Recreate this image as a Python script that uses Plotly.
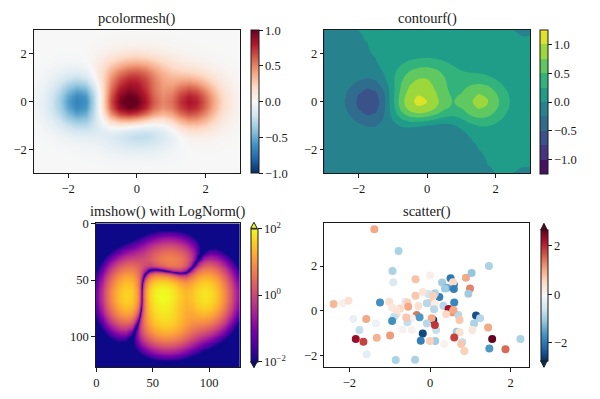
import plotly.graph_objects as go
from plotly.colors import sample_colorscale

# ---------------- data ----------------
grid_x = [-3.0, -2.75, -2.5, -2.25, -2.0, -1.75, -1.5, -1.25, -1.0, -0.75, -0.5, -0.25, 0.0,
          0.25, 0.5, 0.75, 1.0, 1.25, 1.5, 1.75, 2.0, 2.25, 2.5, 2.75, 3.0]
grid_y = [-3.0, -2.75, -2.5, -2.25, -2.0, -1.75, -1.5, -1.25, -1.0, -0.75, -0.5, -0.25, 0.0,
          0.25, 0.5, 0.75, 1.0, 1.25, 1.5, 1.75, 2.0, 2.25, 2.5, 2.75, 3.0]

# field values, one row per grid_y value (bottom row first)
Z = [
    [0, 0, 0, 0, -0.0002, -0.0003, -0.0004, -0.0007, -0.0012, -0.0018, -0.0025, -0.0030, -0.0032, -0.0030, -0.0025, -0.0018, -0.0011, -0.0006, -0.0003, -0.0001, 0, 0, 0, 0, 0],
    [0, 0, -0.0001, -0.0002, -0.0005, -0.0009, -0.0014, -0.0025, -0.0039, -0.0059, -0.0079, -0.0097, -0.0103, -0.0098, -0.0081, -0.0059, -0.0037, -0.0019, -0.0007, -0.0001, 0.0001, 0.0002, 0.0001, 0, 0],
    [-0.0001, -0.0002, -0.0004, -0.0009, -0.0016, -0.0027, -0.0044, -0.0069, -0.0107, -0.0160, -0.0217, -0.0263, -0.0283, -0.0267, -0.0223, -0.0163, -0.0100, -0.0049, -0.0016, 0.0001, 0.0005, 0.0005, 0.0003, 0.0002, 0.0001],
    [-0.0002, -0.0006, -0.0013, -0.0027, -0.0048, -0.0077, -0.0115, -0.0170, -0.0253, -0.0370, -0.0502, -0.0610, -0.0658, -0.0625, -0.0524, -0.0380, -0.0230, -0.0106, -0.0024, 0.0015, 0.0024, 0.0018, 0.0011, 0.0005, 0.0002],
    [-0.0006, -0.0016, -0.0037, -0.0074, -0.0128, -0.0193, -0.0267, -0.0362, -0.0505, -0.0716, -0.0967, -0.1183, -0.1282, -0.1225, -0.1030, -0.0745, -0.0438, -0.0175, -0.0003, 0.0073, 0.0080, 0.0058, 0.0031, 0.0014, 0.0005],
    [-0.001, -0.004, -0.009, -0.018, -0.030, -0.044, -0.055, -0.067, -0.084, -0.113, -0.151, -0.186, -0.204, -0.197, -0.167, -0.120, -0.066, -0.019, 0.012, 0.025, 0.023, 0.015, 0.008, 0.004, 0.001],
    [-0.003, -0.009, -0.020, -0.039, -0.064, -0.088, -0.102, -0.106, -0.112, -0.134, -0.177, -0.223, -0.250, -0.247, -0.213, -0.151, -0.073, 0.001, 0.050, 0.065, 0.055, 0.036, 0.019, 0.008, 0.003],
    [-0.006, -0.017, -0.039, -0.076, -0.123, -0.162, -0.172, -0.149, -0.112, -0.097, -0.120, -0.163, -0.200, -0.212, -0.191, -0.130, -0.035, 0.065, 0.130, 0.143, 0.115, 0.074, 0.039, 0.017, 0.006],
    [-0.011, -0.030, -0.068, -0.132, -0.209, -0.267, -0.265, -0.187, -0.068, 0.029, 0.063, 0.043, 0.000, -0.043, -0.063, -0.029, 0.068, 0.187, 0.265, 0.267, 0.209, 0.132, 0.069, 0.030, 0.011],
    [-0.017, -0.046, -0.105, -0.202, -0.318, -0.399, -0.376, -0.221, 0.016, 0.232, 0.354, 0.376, 0.329, 0.243, 0.160, 0.143, 0.226, 0.359, 0.446, 0.430, 0.330, 0.206, 0.107, 0.046, 0.017],
    [-0.023, -0.063, -0.144, -0.274, -0.430, -0.534, -0.490, -0.253, 0.107, 0.449, 0.663, 0.731, 0.681, 0.549, 0.398, 0.327, 0.394, 0.539, 0.634, 0.598, 0.455, 0.283, 0.146, 0.063, 0.023],
    [-0.028, -0.076, -0.173, -0.330, -0.517, -0.639, -0.580, -0.284, 0.167, 0.601, 0.880, 0.978, 0.925, 0.759, 0.560, 0.453, 0.513, 0.672, 0.775, 0.726, 0.550, 0.342, 0.176, 0.077, 0.028],
    [-0.030, -0.080, -0.184, -0.352, -0.550, -0.680, -0.616, -0.299, 0.184, 0.648, 0.949, 1.056, 1.000, 0.823, 0.608, 0.491, 0.552, 0.718, 0.827, 0.774, 0.586, 0.364, 0.188, 0.082, 0.030],
    [-0.028, -0.076, -0.173, -0.330, -0.516, -0.638, -0.577, -0.278, 0.178, 0.617, 0.903, 1.006, 0.954, 0.787, 0.583, 0.470, 0.524, 0.678, 0.778, 0.727, 0.551, 0.342, 0.177, 0.077, 0.028],
    [-0.023, -0.063, -0.143, -0.273, -0.426, -0.525, -0.469, -0.212, 0.179, 0.560, 0.815, 0.914, 0.876, 0.732, 0.550, 0.438, 0.466, 0.580, 0.654, 0.607, 0.458, 0.284, 0.147, 0.064, 0.023],
    [-0.017, -0.046, -0.104, -0.199, -0.309, -0.376, -0.326, -0.120, 0.193, 0.506, 0.728, 0.828, 0.810, 0.695, 0.534, 0.417, 0.403, 0.460, 0.496, 0.452, 0.338, 0.209, 0.108, 0.047, 0.017],
    [-0.011, -0.029, -0.067, -0.127, -0.195, -0.233, -0.188, -0.033, 0.203, 0.448, 0.636, 0.734, 0.736, 0.648, 0.510, 0.390, 0.338, 0.341, 0.343, 0.302, 0.222, 0.136, 0.070, 0.030, 0.011],
    [-0.006, -0.017, -0.038, -0.071, -0.108, -0.123, -0.086, 0.023, 0.189, 0.369, 0.518, 0.606, 0.619, 0.557, 0.446, 0.336, 0.266, 0.236, 0.217, 0.181, 0.130, 0.079, 0.040, 0.017, 0.006],
    [-0.003, -0.008, -0.019, -0.035, -0.051, -0.055, -0.027, 0.043, 0.150, 0.271, 0.377, 0.445, 0.461, 0.421, 0.341, 0.255, 0.189, 0.150, 0.125, 0.098, 0.068, 0.041, 0.021, 0.009, 0.003],
    [-0.001, -0.004, -0.008, -0.015, -0.021, -0.020, -0.002, 0.039, 0.101, 0.173, 0.240, 0.285, 0.298, 0.274, 0.224, 0.166, 0.118, 0.086, 0.065, 0.048, 0.032, 0.019, 0.009, 0.004, 0.001],
    [-0.0005, -0.0014, -0.0031, -0.0055, -0.0074, -0.0056, 0.0042, 0.0252, 0.0573, 0.0954, 0.1315, 0.1569, 0.1648, 0.1527, 0.1253, 0.0925, 0.0640, 0.0439, 0.0305, 0.0211, 0.0134, 0.0076, 0.0037, 0.0016, 0.0006],
    [-0.0002, -0.0005, -0.0010, -0.0018, -0.0022, -0.0009, 0.0037, 0.0132, 0.0277, 0.0452, 0.0622, 0.0744, 0.0784, 0.0729, 0.0601, 0.0442, 0.0300, 0.0197, 0.0128, 0.0083, 0.0050, 0.0028, 0.0013, 0.0005, 0.0002],
    [-0.0001, -0.0001, -0.0003, -0.0005, -0.0005, 0.0001, 0.0020, 0.0057, 0.0115, 0.0184, 0.0253, 0.0303, 0.0321, 0.0299, 0.0247, 0.0181, 0.0122, 0.0077, 0.0048, 0.0029, 0.0017, 0.0009, 0.0005, 0.0002, 0.0001],
    [0, 0, -0.0001, -0.0001, -0.0001, 0.0001, 0.0008, 0.0021, 0.0041, 0.0065, 0.0089, 0.0108, 0.0113, 0.0106, 0.0087, 0.0064, 0.0043, 0.0027, 0.0015, 0.0009, 0.0005, 0.0002, 0.0001, 0, 0],
    [0, 0, 0, 0, 0, 0.0001, 0.0003, 0.0007, 0.0013, 0.0020, 0.0027, 0.0032, 0.0035, 0.0032, 0.0027, 0.0020, 0.0013, 0.0008, 0.0005, 0.0003, 0.0001, 0, 0, 0, 0],
]

scatter_x = [-1.38, -0.78, -0.93, -0.91, -0.36, 0.00, 0.51, 0.30, 0.41, 0.59, 0.57, 0.59, 0.89, 1.03, 1.46,
             0.99, 0.95, 0.23, 0.60, 0.12, -0.04, 0.08, -0.18, -0.36, -0.62, -0.56, -1.01, -1.24, -0.74,
             -0.94, -0.54, -0.29, 0.00, 0.12, -0.08, 0.10, 0.33, 0.37, 0.46, 0.56, 0.40, 0.70, 0.73, 1.14,
             1.24, 1.09, 1.05, 1.44, 1.54, 1.47, 1.87, 2.24, 0.66, 0.73, 0.60, 0.80, 0.77, 0.85, 0.35,
             0.13, 0.00, -0.18, -0.23, 0.15, 0.08, 0.04, -0.08, 0.12, -0.33, -0.26, -0.45, -0.56, -0.59,
             -0.83, -0.89, -0.94, -0.68, -0.45, -0.99, -0.85, -0.37, -1.32, -1.34, -1.58, -1.90, -1.75,
             -1.84, -1.65, -1.57, -2.39, -2.16, -2.02, -0.83, 0.58]
scatter_y = [3.65, 2.68, 1.78, 1.27, 1.41, 1.58, 1.45, 1.26, 1.03, 1.18, 1.27, 0.97, 1.48, 1.69, 2.00,
             1.00, 0.76, 0.61, 0.37, 0.78, 0.75, 0.67, 0.84, 0.67, 0.40, 0.37, 0.40, 0.37, 0.10,
             0.13, 0.18, 0.21, 0.37, 0.31, 0.33, 0.06, 0.22, 1.00, 0.07, -0.07, -0.16, -0.19, -0.42, -0.22,
             -0.34, -0.57, -0.87, -0.75, -1.27, -1.70, -1.73, -1.27, -0.94, -0.97, -1.20, -1.42, -1.49, -1.81, -1.49,
             -1.36, -1.36, -1.02, -1.35, -0.87, -0.42, -0.34, -0.57, -0.64, -0.19, -0.30, -0.34, -0.52, -0.31,
             -0.16, -0.27, -0.46, -0.84, -0.87, -1.11, -2.21, -2.20, -1.21, -0.57, -0.37, -0.37, -0.87,
             -1.27, -1.39, -1.96, 0.30, 0.33, 0.45, 0.03, 0.03]
scatter_c = [1.0, -0.9, -0.9, -0.45, 0.75, 0.1, -2.0, -1.0, -1.5, -2.0, 0.5, -1.9, 1.0, -1.1, -0.9,
             1.3, -1.0, -1.9, -1.8, -0.9, -0.6, 0.6, 0.3, 0.7, -0.3, 0.6, 0.4, -1.7, 0.5,
             0.25, 1.0, 0.4, 0.6, 0.15, -0.8, -0.8, -0.8, -1.0, 2.2, 1.2, 0.5, -0.8, 0.7, -2.4,
             -0.8, -0.9, 0.25, 1.0, 2.65, -1.6, 1.5, -0.9, -1.0, 0.4, 1.8, -0.7, 0.7, 0.6, 0.05,
             -1.0, 0.6, -2.5, -1.9, -0.7, -2.74, 1.0, -0.8, 1.9, 1.4, -1.6, 0.05, -0.7, 0.7,
             0.4, -0.7, -1.7, 0.05, 0.05, 1.1, -0.9, -0.9, 0.9, -0.2, 1.0, -0.25, -0.7,
             2.3, 1.8, -0.3, 0.85, 0.1, 0.4, 0.3, 1.0]

titles = ["pcolormesh()", "contourf()", "imshow() with LogNorm()", "scatter()"]
pm_ticks = [-1.0, -0.5, 0.0, 0.5, 1.0]
ct_ticks = [-1.0, -0.5, 0.0, 0.5, 1.0]
log_ticks = [-2, 0, 2]
log_ticktext = ["10<sup>\u22122</sup>", "10<sup>0</sup>", "10<sup>2</sup>"]
sc_ticks = [-2, 0, 2]

# ---------------- styling ----------------
FONT = "Liberation Serif"
INK = "#1a1a1a"
W, H = 600, 399
TICK_SIZE = 12.5
TITLE_SIZE = 14.5


def px(v):
    return v / W


def py(v):
    return 1 - v / H


RDBU_R = ["#053061", "#2166ac", "#4393c3", "#92c5de", "#d1e5f0", "#f7f7f7",
          "#fddbc7", "#f4a582", "#d6604d", "#b2182b", "#67001f"]
rdbu_r = [[i / 10, c] for i, c in enumerate(RDBU_R)]

# log-norm colorscale applied to the signed field: 100*Z^2 in [1e-2, 1e2] -> plasma
n = 40
stops = []
for k in range(n + 1):
    t = k / n
    a = 10 ** (2 * (t - 1))
    col = sample_colorscale("Plasma", [t])[0]
    stops.append([0.5 + a / 2, col])
    stops.append([0.5 - a / 2, col])
stops.append([0.5, sample_colorscale("Plasma", [0])[0]])
stops.sort(key=lambda s: s[0])
log_scale = stops

boxes = {1: (33.7, 30, 240, 173.3), 2: (324.3, 30, 530, 173.3),
         3: (95.7, 223.3, 240, 367.3), 4: (324.3, 223.3, 529.3, 367.3)}


def cbar(left, top, bottom, thick, **kw):
    d = dict(x=px(left), xanchor="left", xpad=0, ypad=0,
             y=py((top + bottom) / 2), yanchor="middle",
             len=(bottom - top) / H, lenmode="fraction", thickness=thick,
             outlinewidth=1, outlinecolor=INK, ticks="outside", ticklen=3.5,
             tickwidth=1, tickcolor=INK,
             tickfont=dict(family=FONT, size=TICK_SIZE, color=INK))
    d.update(kw)
    return d


fig = go.Figure()

# pcolormesh
fig.add_trace(go.Heatmap(x=grid_x, y=grid_y, z=Z, zsmooth="best", colorscale=rdbu_r,
                         zmin=-1, zmax=1, xaxis="x", yaxis="y", hoverinfo="skip",
                         colorbar=cbar(250.7, 30, 173.3, 8, tickvals=pm_ticks, tickformat=".1f")))

# contourf
fig.add_trace(go.Contour(x=grid_x, y=grid_y, z=Z, colorscale="Viridis", autocontour=False,
                         contours=dict(start=-1.25, end=1.25, size=0.25, coloring="fill"),
                         zauto=False, zmin=-1.25, zmax=1.25,
                         line=dict(width=0, smoothing=1.0), xaxis="x2", yaxis="y2",
                         hoverinfo="skip",
                         colorbar=cbar(540, 30, 174, 7.5, tickvals=ct_ticks, tickformat=".1f")))

# imshow with log norm (pixel index coordinates)
im_x = [(v + 3) / 6 * 127 for v in grid_x]
im_y = [(v + 3) / 6 * 127 for v in grid_y]
fig.add_trace(go.Heatmap(x=im_x, y=im_y, z=Z, zsmooth="best", colorscale=log_scale,
                         zmin=-1, zmax=1, showscale=False, xaxis="x3", yaxis="y3",
                         hoverinfo="skip"))
fig.add_trace(go.Scatter(x=[None], y=[None], mode="markers", xaxis="x3", yaxis="y3",
                         showlegend=False, hoverinfo="skip",
                         marker=dict(color=[0], colorscale="Plasma", cmin=-2, cmax=2,
                                     showscale=True,
                                     colorbar=cbar(250.7, 228.3, 361.7, 6.5, tickvals=log_ticks,
                                                   ticktext=log_ticktext))))

# scatter
fig.add_trace(go.Scatter(x=scatter_x, y=scatter_y, mode="markers", xaxis="x4", yaxis="y4",
                         showlegend=False, hoverinfo="skip",
                         marker=dict(size=8, color=scatter_c, colorscale=rdbu_r,
                                     line=dict(width=0), opacity=1, showscale=True,
                                     colorbar=cbar(540.7, 230, 360.7, 6.5, tickvals=sc_ticks))))


def tri(left, width, base, apex, color):
    xl, xr, xm = px(left), px(left + width), px(left + width / 2)
    return dict(type="path", xref="paper", yref="paper",
                path=f"M {xl},{py(base)} L {xr},{py(base)} L {xm},{py(apex)} Z",
                fillcolor=color, line=dict(color=INK, width=1), layer="above")


shapes = [
    tri(250.7, 6.5, 228.3, 222.3, sample_colorscale("Plasma", [1])[0]),
    tri(250.7, 6.5, 361.7, 367.7, sample_colorscale("Plasma", [0])[0]),
    tri(540.7, 6.5, 230, 223.3, RDBU_R[-1]),
    tri(540.7, 6.5, 360.7, 367.3, RDBU_R[0]),
]

axis_common = dict(showline=True, mirror=True, linecolor=INK, linewidth=1, ticks="outside",
                   ticklen=3.5, tickwidth=1, tickcolor=INK, showgrid=False, zeroline=False,
                   tickfont=dict(family=FONT, size=TICK_SIZE, color=INK))


def xa(i, rng, tv):
    l, t, r, b = boxes[i]
    return dict(domain=[px(l), px(r)], range=rng, tickvals=tv, anchor="y" + ("" if i == 1 else str(i)),
                **axis_common)


def ya(i, rng, tv):
    l, t, r, b = boxes[i]
    return dict(domain=[py(b), py(t)], range=rng, tickvals=tv, anchor="x" + ("" if i == 1 else str(i)),
                **axis_common)


annotations = []
for i, title in enumerate(titles, start=1):
    l, t, r, b = boxes[i]
    annotations.append(dict(text=title, x=px((l + r) / 2), y=py(t), xref="paper", yref="paper",
                            xanchor="center", yanchor="bottom", yshift=1, showarrow=False,
                            font=dict(family=FONT, size=TITLE_SIZE, color=INK)))

fig.update_layout(
    width=W, height=H, margin=dict(l=0, r=0, t=0, b=0, autoexpand=False),
    paper_bgcolor="white", plot_bgcolor="white",
    xaxis=xa(1, [-3, 3], [-2, 0, 2]), yaxis=ya(1, [-3, 3], [-2, 0, 2]),
    xaxis2=xa(2, [-3, 3], [-2, 0, 2]), yaxis2=ya(2, [-3, 3], [-2, 0, 2]),
    xaxis3=xa(3, [-0.5, 127.5], [0, 50, 100]), yaxis3=ya(3, [127.5, -0.5], [0, 50, 100]),
    xaxis4=xa(4, [-2.62, 2.46], [-2, 0, 2]), yaxis4=ya(4, [-2.54, 3.92], [-2, 0, 2]),
    shapes=shapes, annotations=annotations, showlegend=False,
)

fig.write_html("out.html", config={"displayModeBar": False},
               post_script="document.body.style.margin='0';document.body.style.overflow='hidden';")
